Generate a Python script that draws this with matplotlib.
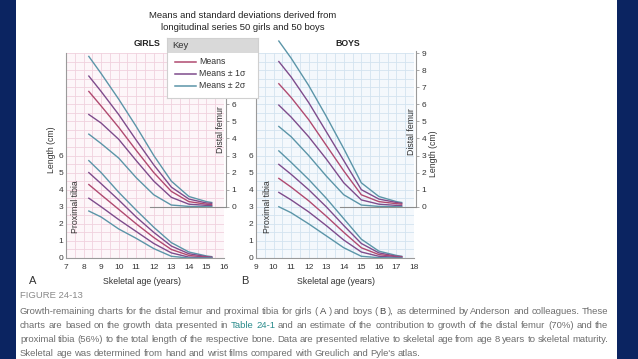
import numpy as np
import matplotlib
matplotlib.use('Agg')
import matplotlib.pyplot as plt
from matplotlib.patches import Rectangle
from matplotlib.ticker import MultipleLocator

plt.rcParams['font.family'] = ['Liberation Sans', 'DejaVu Sans']

# ---- data (cm of growth remaining) ----
girls_age = [8.3, 9, 10, 11, 12, 13, 14, 15, 15.3]
girls_tibia_p2 = [5.7, 5.0, 3.85, 2.8, 1.8, 0.9, 0.35, 0.12, 0.08]
girls_tibia_p1 = [5.0, 4.35, 3.4, 2.4, 1.5, 0.7, 0.25, 0.08, 0.05]
girls_tibia_mean = [4.3, 3.7, 2.85, 2.0, 1.2, 0.5, 0.15, 0.05, 0.03]
girls_tibia_m1 = [3.5, 3.0, 2.25, 1.55, 0.85, 0.3, 0.05, 0.02, 0.01]
girls_tibia_m2 = [2.75, 2.4, 1.7, 1.15, 0.55, 0.1, 0.0, 0.0, 0.0]

girls_femur_p2 = [8.8, 7.8, 6.3, 4.7, 3.0, 1.5, 0.6, 0.3, 0.25]
girls_femur_p1 = [7.65, 6.75, 5.4, 3.9, 2.45, 1.15, 0.45, 0.22, 0.2]
girls_femur_mean = [6.75, 5.9, 4.65, 3.3, 2.0, 0.9, 0.3, 0.15, 0.12]
girls_femur_m1 = [5.4, 4.9, 3.95, 2.7, 1.5, 0.55, 0.15, 0.08, 0.06]
girls_femur_m2 = [4.25, 3.7, 2.85, 1.7, 0.7, 0.1, 0.02, 0.0, 0.0]

boys_age = [10.3, 11, 12, 13, 14, 15, 16, 17, 17.3]
boys_tibia_p2 = [6.27, 5.6, 4.6, 3.5, 2.3, 1.1, 0.4, 0.15, 0.1]
boys_tibia_p1 = [5.48, 4.9, 4.0, 3.0, 1.9, 0.85, 0.3, 0.1, 0.08]
boys_tibia_mean = [4.66, 4.15, 3.35, 2.45, 1.5, 0.6, 0.2, 0.08, 0.06]
boys_tibia_m1 = [3.84, 3.4, 2.7, 1.9, 1.05, 0.35, 0.1, 0.04, 0.03]
boys_tibia_m2 = [3.0, 2.65, 2.0, 1.3, 0.6, 0.1, 0.02, 0.0, 0.0]

boys_femur_p2 = [9.7, 8.7, 7.1, 5.3, 3.4, 1.4, 0.6, 0.3, 0.25]
boys_femur_p1 = [8.5, 7.6, 6.1, 4.4, 2.7, 1.0, 0.45, 0.25, 0.2]
boys_femur_mean = [7.2, 6.4, 5.1, 3.6, 2.1, 0.7, 0.3, 0.18, 0.15]
boys_femur_m1 = [5.95, 5.25, 4.1, 2.8, 1.4, 0.4, 0.15, 0.08, 0.06]
boys_femur_m2 = [4.7, 4.1, 3.0, 1.8, 0.7, 0.1, 0.02, 0.0, 0.0]

FEMUR_OFFSET = 3  # distal femur scale starts at 3 cm on the tibia scale

C_MEAN = '#b04a70'
C_SD1 = '#7e4c8c'
C_SD2 = '#5b95a8'
TXT = '#333333'

W, H = 638, 359


def fbox(l, t, r, b):
    return [l / W, 1 - b / H, (r - l) / W, (b - t) / H]


def ftext(x, y, s, **kw):
    return fig.text(x / W, 1 - y / H, s, **kw)


fig = plt.figure(figsize=(W / 100, H / 100), dpi=100, facecolor='#0b2461')
fig.patches.append(Rectangle((16 / W, 0), (617 - 16) / W, 1, transform=fig.transFigure,
                             facecolor='white', edgecolor='none', zorder=-5))


def panel(box, xlim, face, gridc, age, tibia, femur, femur_top, base_start, fticks):
    ax = fig.add_axes(box)
    ax.set_xlim(*xlim)
    ax.set_ylim(0, 12)
    ax.set_facecolor(face)
    ax.xaxis.set_minor_locator(MultipleLocator(0.5))
    ax.yaxis.set_minor_locator(MultipleLocator(0.5))
    ax.set_xticks(range(xlim[0], xlim[1] + 1))
    ax.set_yticks(range(0, 7))
    ax.grid(which='both', color=gridc, lw=0.6)
    ax.set_axisbelow(True)
    for s in ['top', 'right']:
        ax.spines[s].set_visible(False)
    for s in ['left', 'bottom']:
        ax.spines[s].set_color('#9a9a9a')
        ax.spines[s].set_linewidth(0.8)
    ax.tick_params(which='both', length=0, labelsize=6, labelcolor=TXT)
    ax.tick_params(axis='x', pad=4)
    ax.tick_params(axis='y', pad=2)
    cols = [C_SD2, C_SD1, C_MEAN, C_SD1, C_SD2]
    for vals, c in zip(tibia, cols):
        ax.plot(age, vals, color=c, lw=1.0, clip_on=False)
    for vals, c in zip(femur, cols):
        ax.plot(age, np.array(vals) + FEMUR_OFFSET, color=c, lw=1.0, clip_on=False)
    xr = xlim[1] + 0.11
    ax.plot([base_start, xr], [FEMUR_OFFSET, FEMUR_OFFSET], color='#8c8c8c', lw=0.8, clip_on=False)
    sec = ax.secondary_yaxis(1 + 0.11 / (xlim[1] - xlim[0]),
                             functions=(lambda y: y - FEMUR_OFFSET, lambda y: y + FEMUR_OFFSET))
    sec.set_yticks(fticks)
    sec.spines['left'].set_visible(False)
    sec.spines['right'].set_bounds(0, femur_top)
    sec.spines['right'].set_color('#9a9a9a')
    sec.spines['right'].set_linewidth(0.8)
    sec.tick_params(length=2, width=0.6, color='#9a9a9a', labelsize=6, labelcolor=TXT, pad=2)
    return ax


ax_g = panel(fbox(66, 53, 224, 258), (7, 16), '#fdf6f9', '#f0d2de', girls_age,
             [girls_tibia_p2, girls_tibia_p1, girls_tibia_mean, girls_tibia_m1, girls_tibia_m2],
             [girls_femur_p2, girls_femur_p1, girls_femur_mean, girls_femur_m1, girls_femur_m2],
             6.6, 11.8, range(0, 7))
ax_b = panel(fbox(256, 53, 414, 258), (9, 18), '#f4f8fc', '#d3e3f0', boys_age,
             [boys_tibia_p2, boys_tibia_p1, boys_tibia_mean, boys_tibia_m1, boys_tibia_m2],
             [boys_femur_p2, boys_femur_p1, boys_femur_mean, boys_femur_m1, boys_femur_m2],
             9.1, 13.8, range(0, 10))

# titles and labels
ftext(243, 16, 'Means and standard deviations derived from', ha='center', va='center', fontsize=6.8, color='#222')
ftext(243, 28, 'longitudinal series 50 girls and 50 boys', ha='center', va='center', fontsize=6.8, color='#222')
ftext(147, 43, 'GIRLS', ha='center', va='center', fontsize=6.3, fontweight='bold', color='#222')
ftext(348, 43, 'BOYS', ha='center', va='center', fontsize=6.3, fontweight='bold', color='#222')

ftext(51, 150, 'Length (cm)', rotation=90, ha='center', va='center', fontsize=6.3, color=TXT)
ftext(75, 207, 'Proximal tibia', rotation=90, ha='center', va='center', fontsize=6.3, color=TXT)
ftext(221, 130, 'Distal femur', rotation=90, ha='center', va='center', fontsize=6.3, color=TXT)
ftext(267, 207, 'Proximal tibia', rotation=90, ha='center', va='center', fontsize=6.3, color=TXT)
ftext(411, 132, 'Distal femur', rotation=90, ha='center', va='center', fontsize=6.3, color=TXT)
ftext(433, 154, 'Length (cm)', rotation=90, ha='center', va='center', fontsize=6.3, color=TXT)

ftext(33, 281, 'A', ha='center', va='center', fontsize=8, color=TXT)
ftext(142, 281, 'Skeletal age (years)', ha='center', va='center', fontsize=6.3, color=TXT)
ftext(245, 281, 'B', ha='center', va='center', fontsize=8, color=TXT)
ftext(336, 281, 'Skeletal age (years)', ha='center', va='center', fontsize=6.3, color=TXT)

# key box
kx = fig.add_axes(fbox(167, 38, 258, 98))
kx.set_xlim(0, 91)
kx.set_ylim(60, 0)
kx.set_xticks([])
kx.set_yticks([])
kx.set_facecolor('white')
for s in kx.spines.values():
    s.set_color('#d0d0d0')
    s.set_linewidth(0.8)
kx.add_patch(Rectangle((0, 0), 91, 15, facecolor='#d9d9d9', edgecolor='none'))
kx.text(5, 8, 'Key', va='center', fontsize=6.8, color='#333')
key_labels = ['Means', 'Means \u00b1 1\u03c3', 'Means \u00b1 2\u03c3']
key_colors = [C_MEAN, C_SD1, C_SD2]
for i, (lab, c) in enumerate(zip(key_labels, key_colors)):
    yy = 24 + i * 12
    kx.plot([8, 29], [yy, yy], color=c, lw=1.1)
    kx.text(32, yy, lab, va='center', fontsize=6.3, color='#333')

# caption
ftext(20, 296, 'FIGURE 24-13', va='center', fontsize=6.8, color='#8a8a8a')
CAP = '#6e6e6e'
TEAL = '#2b8c8c'
cap_lines = [
    'Growth-remaining charts for the distal femur and proximal tibia for girls ( A ) and boys ( B ), as determined by Anderson and colleagues. These',
    'charts are based on the growth data presented in Table 24-1 and an estimate of the contribution to growth of the distal femur (70%) and the',
    'proximal tibia (56%) to the total length of the respective bone. Data are presented relative to skeletal age from age 8 years to skeletal maturity.',
    "Skeletal age was determined from hand and wrist films compared with Greulich and Pyle's atlas.",
]
cap_y = [311, 325, 339, 353]

renderer = fig.canvas.get_renderer()
for li, (line, yy) in enumerate(zip(cap_lines, cap_y)):
    words = line.split(' ')
    arts = []
    for wi, w in enumerate(words):
        col = CAP
        if li == 1 and w in ('Table', '24-1'):
            col = TEAL
        if li == 0 and w in ('A', 'B'):
            col = '#444444'
        arts.append(ftext(0, yy, w, va='center', fontsize=6.8, color=col))
    widths = [a.get_window_extent(renderer).width for a in arts]
    if li == len(cap_lines) - 1:
        gap = 2.4
    else:
        gap = (608 - 20 - sum(widths)) / (len(words) - 1)
    x = 20.0
    for a, wd in zip(arts, widths):
        a.set_x(x / W)
        x += wd + gap

fig.savefig('out.png', dpi=100, facecolor=fig.get_facecolor())
